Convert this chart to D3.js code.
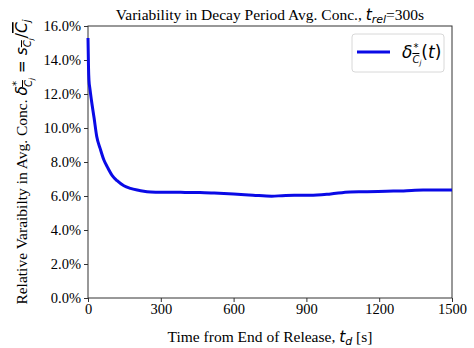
<!DOCTYPE html>
<html>
<head>
<meta charset="utf-8">
<script src="https://cdn.jsdelivr.net/npm/d3@7"></script>
<style>
  body { margin: 0; background: #fff; }
  svg { display: block; }
  .tick text { font-family: "Liberation Serif", "Times New Roman", serif; font-size: 14.5px; fill: #000; }
  .tick line { stroke: #333; }
</style>
</head>
<body>
<svg id="svg1" width="474" height="348"></svg>
<script>
// time after end of release [s]
var timeS = [0, 2, 4, 8, 14, 25, 36, 50, 66, 80, 100, 120, 148, 175, 203, 230, 258, 300, 350,
             400, 461, 520, 600, 680, 757, 800, 850, 915, 1000, 1080, 1150, 1230, 1300, 1381, 1440, 1500];
// relative variability (%)
var deltaPct = [15.3, 13.6, 12.8, 12.3, 11.65, 10.6, 9.5, 8.8, 8.1, 7.7, 7.2, 6.9, 6.6, 6.45, 6.35, 6.28, 6.24, 6.22, 6.22,
                6.21, 6.2, 6.17, 6.12, 6.05, 5.99, 6.02, 6.05, 6.04, 6.12, 6.24, 6.25, 6.28, 6.3, 6.35, 6.35, 6.35];
var xTicks = [0, 300, 600, 900, 1200, 1500];
var yTicks = [0, 2, 4, 6, 8, 10, 12, 14, 16];

var marginLeft = 88;
var marginTop = 26;
var width = 364;
var height = 272;

var svg = d3.select('svg');
var g = svg.append('g')
           .attr('transform', 'translate(' + marginLeft + ',' + marginTop + ')');

var x = d3.scaleLinear().domain([0, 1500]).range([0, width]);
var y = d3.scaleLinear().domain([0, 16]).range([height, 0]);

var data = timeS.map(function(t, i) { return { t: t, v: deltaPct[i] }; });

// axes
var xAxis = g.append('g')
             .attr('transform', 'translate(0,' + height + ')')
             .call(d3.axisBottom(x).tickValues(xTicks).tickSize(4).tickPadding(2).tickFormat(d3.format('d')));
var yAxis = g.append('g')
             .call(d3.axisLeft(y).tickValues(yTicks).tickSize(4).tickPadding(3)
                     .tickFormat(function(d) { return d.toFixed(1) + '%'; }));
xAxis.select('.domain').remove();
yAxis.select('.domain').remove();

// frame
g.append('rect')
 .attr('x', 0).attr('y', 0)
 .attr('width', width).attr('height', height)
 .attr('fill', 'none')
 .attr('stroke', '#333')
 .attr('stroke-width', 1);

// the curve
var line = d3.line()
             .x(function(d) { return x(d.t); })
             .y(function(d) { return y(d.v); })
             .curve(d3.curveMonotoneX);

g.append('path')
 .datum(data)
 .attr('fill', 'none')
 .attr('stroke', '#0a0ae6')
 .attr('stroke-width', 3)
 .attr('d', line);

// legend
var legend = svg.append('g').attr('transform', 'translate(352,34)');
legend.append('rect')
      .attr('width', 92).attr('height', 38)
      .attr('rx', 3)
      .attr('fill', '#fff')
      .attr('stroke', '#d8d8d8');
legend.append('line')
      .attr('x1', 5).attr('x2', 38)
      .attr('y1', 18).attr('y2', 18)
      .attr('stroke', '#0a0ae6')
      .attr('stroke-width', 3);
var lt = legend.append('text')
      .attr('x', 50).attr('y', 24)
      .style('font-family', '"DejaVu Sans", sans-serif')
      .style('font-size', '17px');
lt.append('tspan').style('font-style', 'italic').text('δ');
lt.append('tspan').attr('dy', -7).style('font-size', '10px').attr('dx', 1).text('*');
lt.append('tspan').attr('dx', -6).attr('dy', 12).style('font-size', '10px').style('font-style', 'italic')
  .style('text-decoration', 'overline').text('C');
lt.append('tspan').attr('dy', 2).style('font-size', '7px').style('font-style', 'italic').text('j');
lt.append('tspan').attr('dy', -7).text('(');
lt.append('tspan').style('font-style', 'italic').text('t');
lt.append('tspan').text(')');

// title
var title = svg.append('text')
               .attr('x', 270).attr('y', 20)
               .attr('text-anchor', 'middle')
               .style('font-family', '"Liberation Serif", "Times New Roman", serif')
               .style('font-size', '15.5px');
title.append('tspan').text('Variability in Decay Period Avg. Conc., ');
title.append('tspan').style('font-family', '"DejaVu Sans", sans-serif').style('font-style', 'italic').text('t');
title.append('tspan').attr('dy', 3).style('font-family', '"DejaVu Sans", sans-serif').style('font-style', 'italic')
     .style('font-size', '11px').text('rel');
title.append('tspan').attr('dy', -3).text('=300s');

// x label
var xl = svg.append('text')
            .attr('x', 270).attr('y', 342)
            .attr('text-anchor', 'middle')
            .style('font-family', '"Liberation Serif", "Times New Roman", serif')
            .style('font-size', '15.5px');
xl.append('tspan').text('Time from End of Release, ');
xl.append('tspan').style('font-family', '"DejaVu Sans", sans-serif').style('font-style', 'italic').text('t');
xl.append('tspan').attr('dy', 3).style('font-family', '"DejaVu Sans", sans-serif').style('font-style', 'italic')
  .style('font-size', '11px').text('d');
xl.append('tspan').attr('dy', -3).text(' [s]');

// y label
var yl = svg.append('text')
            .attr('transform', 'translate(27,162) rotate(-90)')
            .attr('text-anchor', 'middle')
            .style('font-family', '"Liberation Serif", "Times New Roman", serif')
            .style('font-size', '15.5px');
var sans = '"DejaVu Sans", sans-serif';
yl.append('tspan').text('Relative Varaibilty in Avg. Conc. ');
yl.append('tspan').style('font-family', sans).style('font-style', 'italic').text('δ');
yl.append('tspan').attr('dy', -7).style('font-family', sans).style('font-size', '10px').text('*');
yl.append('tspan').attr('dx', -6).attr('dy', 12).style('font-family', sans).style('font-size', '10px')
  .style('font-style', 'italic').style('text-decoration', 'overline').text('C');
yl.append('tspan').attr('dy', 2).style('font-family', sans).style('font-size', '7px').style('font-style', 'italic').text('j');
yl.append('tspan').attr('dy', -7).style('font-family', sans).text(' = ');
yl.append('tspan').style('font-family', sans).style('font-style', 'italic').text('s');
yl.append('tspan').attr('dy', 4).style('font-family', sans).style('font-size', '10px')
  .style('font-style', 'italic').style('text-decoration', 'overline').text('C');
yl.append('tspan').attr('dy', 2).style('font-family', sans).style('font-size', '7px').style('font-style', 'italic').text('j');
yl.append('tspan').attr('dy', -6).style('font-family', sans).text('/');
yl.append('tspan').style('font-family', sans).style('font-style', 'italic').style('text-decoration', 'overline').text('C');
yl.append('tspan').attr('dy', 3).style('font-family', sans).style('font-size', '10px').style('font-style', 'italic').text('j');
</script>
</body>
</html>
